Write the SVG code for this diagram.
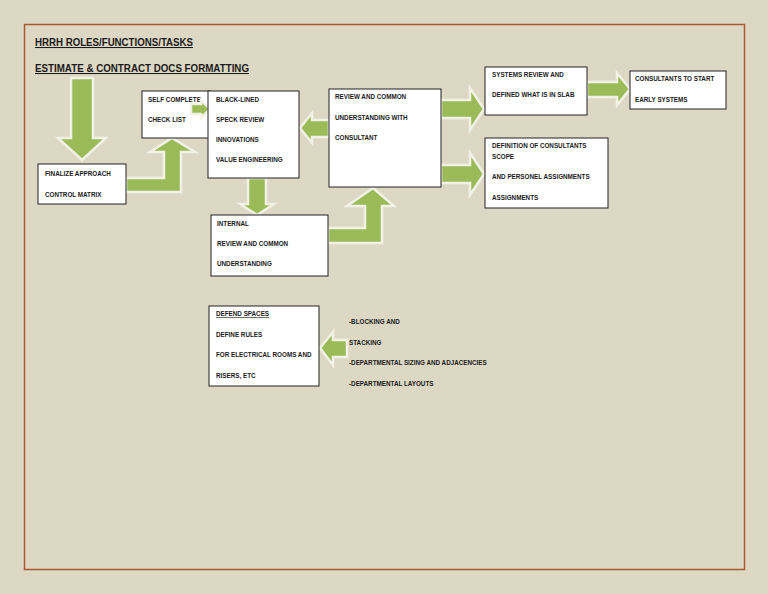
<svg xmlns="http://www.w3.org/2000/svg" width="768" height="594" viewBox="0 0 768 594">
<style>
.bx{fill:#fff;stroke:#222;stroke-width:1}
.ar{fill:#9bbb59;stroke:#f2f1e6;stroke-width:2.5;stroke-linejoin:miter}
text{font-family:"Liberation Sans",Arial,sans-serif;font-weight:bold;font-size:6.3px;fill:#1a1a1a}
.t{font-size:10.5px;text-decoration:underline}
</style>
<rect width="768" height="594" fill="#ddd8c4"/>
<rect x="24.5" y="24.5" width="720" height="545" fill="none" stroke="#a9592f" stroke-width="1.5"/>
<text class="t" x="35" y="46" textLength="158" lengthAdjust="spacingAndGlyphs">HRRH ROLES/FUNCTIONS/TASKS</text>
<text class="t" x="35" y="72" textLength="214" lengthAdjust="spacingAndGlyphs">ESTIMATE &amp; CONTRACT DOCS FORMATTING</text>
<g id="connectors">
<polygon class="ar" points="71,78 93,78 93,138 106,138 82,160 58,138 71,138"/>
<polygon class="ar" points="126,178 164,178 164,152 150,152 172,138 195,152 181,152 181,192 126,192"/>
<polygon class="ar" points="329,120 312,120 312,113 300,128 312,143 312,137 329,137"/>
<polygon class="ar" points="248,178 266,178 266,204 274,204 257,215 240,204 248,204"/>
<polygon class="ar" points="328,228 365,228 365,206 347,206 373,188 394,206 382,206 382,243 328,243"/>
<polygon class="ar" points="441,100 470,100 470,88 484,109 470,130 470,118 441,118"/>
<polygon class="ar" points="441,165 470,165 470,153 484,174 470,195 470,183 441,183"/>
<polygon class="ar" points="587,82 617,82 617,73 630,89 617,105 617,97 587,97"/>
<polygon class="ar" points="347,340 333,340 333,332 320,348 333,365 333,357 347,357"/>
</g>
<g id="finalize"><rect class="bx" x="38" y="164" width="88" height="40"/><text x="45" y="176">FINALIZE APPROACH</text><text x="45" y="197">CONTROL MATRIX</text></g>
<g id="selfcheck"><rect class="bx" x="142" y="91" width="68" height="47"/><text x="148" y="102">SELF COMPLETE</text><text x="148" y="122">CHECK LIST</text>
<polygon class="ar" points="191,104 201,104 201,100 210,109 201,118 201,114 191,114"/></g>
<g id="blacklined"><rect class="bx" x="208" y="91" width="91" height="87"/><text x="216" y="102">BLACK-LINED</text><text x="216" y="122">SPECK REVIEW</text><text x="216" y="142">INNOVATIONS</text><text x="216" y="162">VALUE ENGINEERING</text></g>
<g id="internal"><rect class="bx" x="211" y="215" width="117" height="61"/><text x="217" y="226">INTERNAL</text><text x="217" y="246">REVIEW AND COMMON</text><text x="217" y="266">UNDERSTANDING</text></g>
<g id="review"><rect class="bx" x="329" y="89" width="112" height="98"/><text x="335" y="99">REVIEW AND COMMON</text><text x="335" y="120">UNDERSTANDING WITH</text><text x="335" y="140">CONSULTANT</text></g>
<g id="systems"><rect class="bx" x="485" y="67" width="102" height="48"/><text x="492" y="77">SYSTEMS REVIEW AND</text><text x="492" y="97">DEFINED WHAT IS IN SLAB</text></g>
<g id="consultants"><rect class="bx" x="630" y="71" width="96" height="38"/><text x="635" y="81">CONSULTANTS TO START</text><text x="635" y="102">EARLY SYSTEMS</text></g>
<g id="definition"><rect class="bx" x="485" y="138" width="123" height="70"/><text x="492" y="148">DEFINITION OF CONSULTANTS</text><text x="492" y="159">SCOPE</text><text x="492" y="179">AND PERSONEL ASSIGNMENTS</text><text x="492" y="200">ASSIGNMENTS</text></g>
<g id="defend"><rect class="bx" x="209" y="306" width="110" height="80"/><text x="216" y="316" text-decoration="underline">DEFEND SPACES</text><text x="216" y="337">DEFINE RULES</text><text x="216" y="357">FOR ELECTRICAL ROOMS AND</text><text x="216" y="378">RISERS, ETC</text></g>
<g id="list"><text x="349" y="324">-BLOCKING AND</text><text x="349" y="345">STACKING</text><text x="349" y="365">-DEPARTMENTAL SIZING AND ADJACENCIES</text><text x="349" y="386">-DEPARTMENTAL LAYOUTS</text></g>
</svg>
